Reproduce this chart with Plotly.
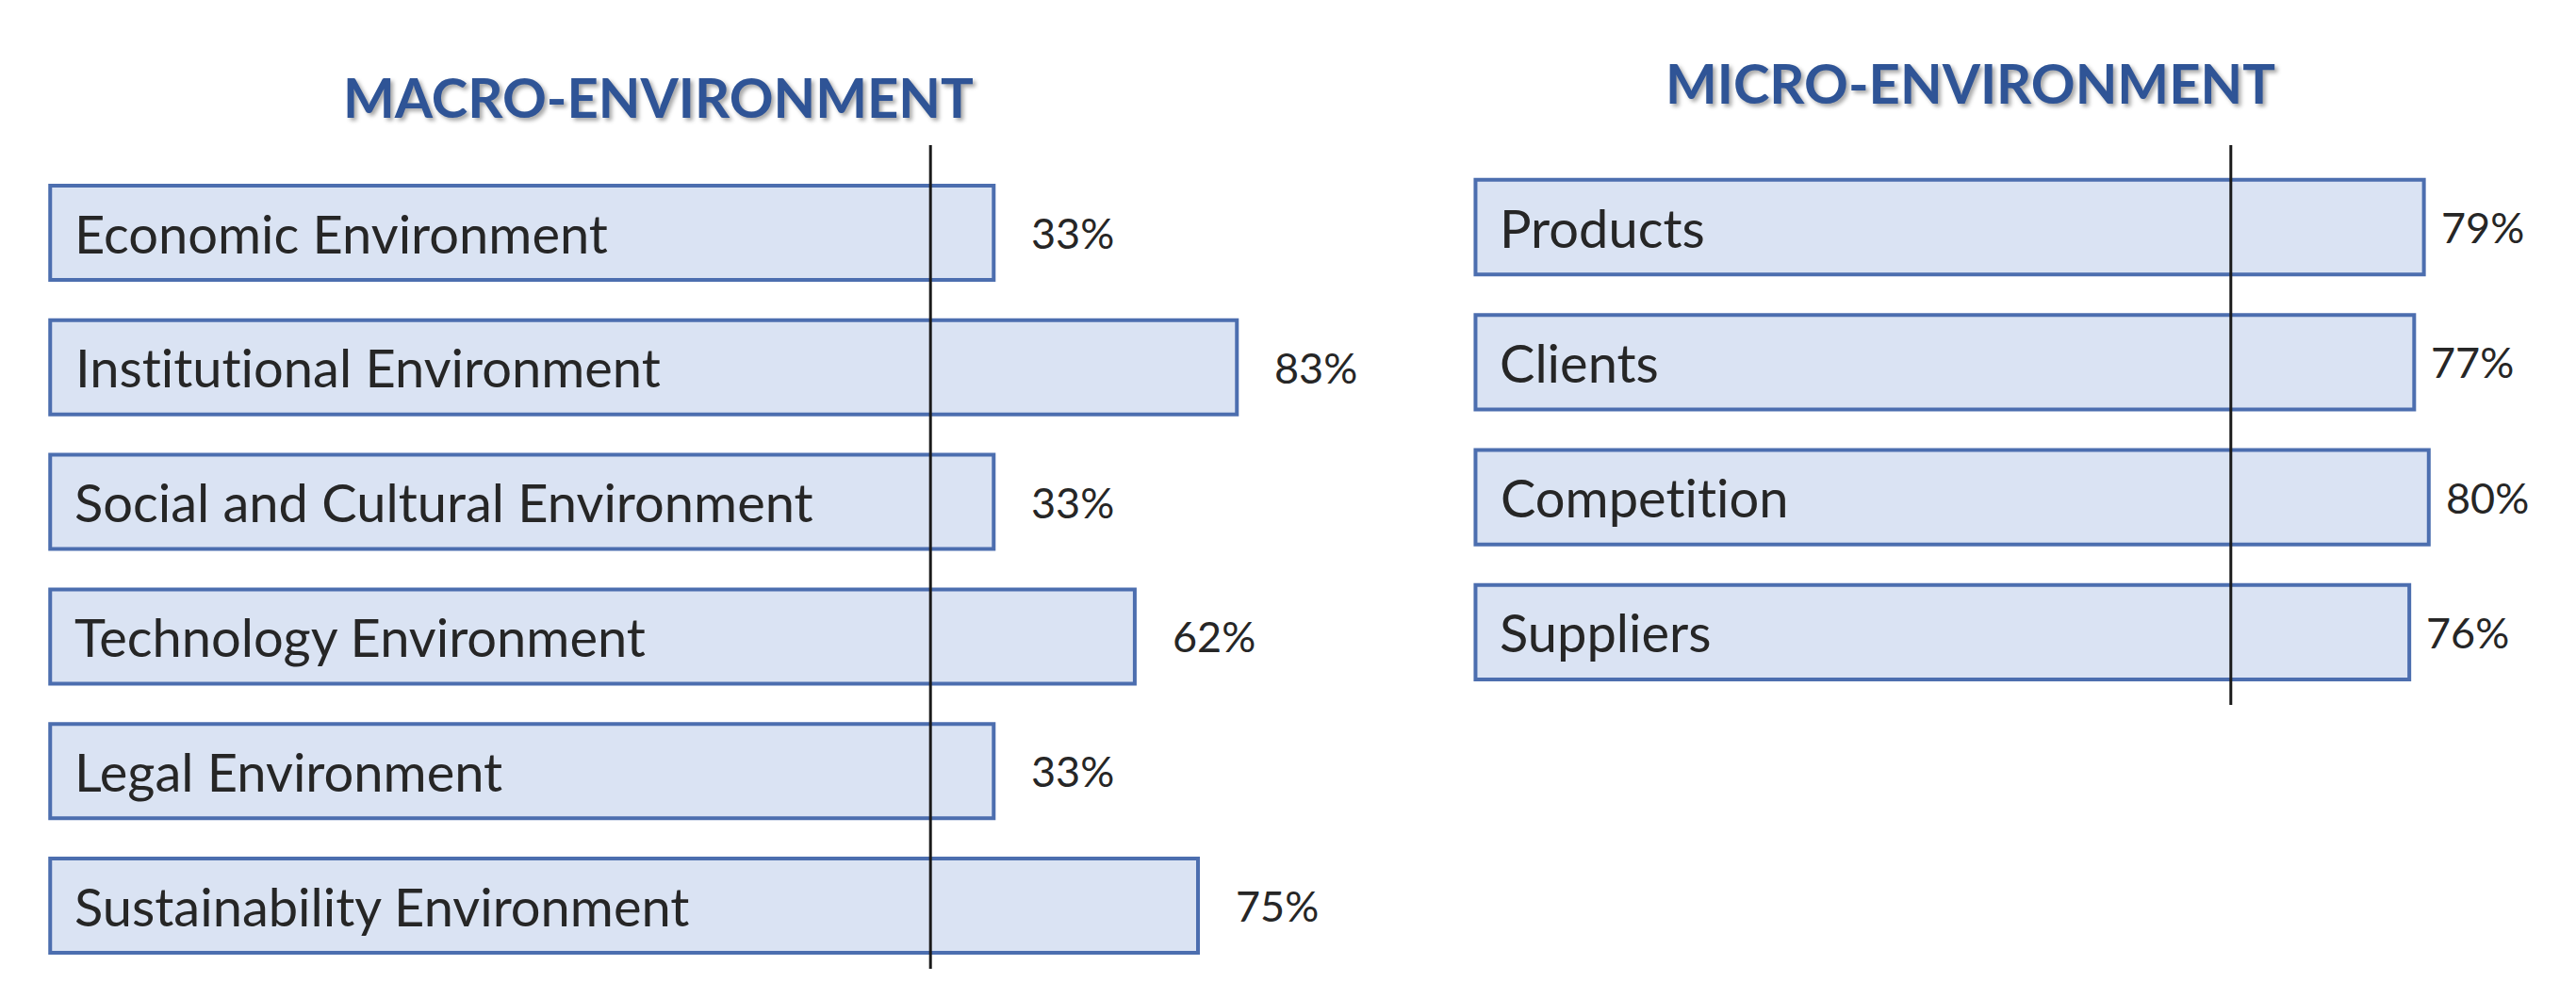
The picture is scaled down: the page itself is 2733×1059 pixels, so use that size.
import plotly.graph_objects as go

# Macro-environment factors
macro_labels = [
    "Economic Environment",
    "Institutional Environment",
    "Social and Cultural Environment",
    "Technology Environment",
    "Legal Environment",
    "Sustainability Environment",
]
macro_values = [33, 83, 33, 62, 33, 75]

# Micro-environment factors
micro_labels = ["Products", "Clients", "Competition", "Suppliers"]
micro_values = [79, 77, 80, 76]

W, H = 2717, 1043
OFF = 8  # body margin of the page

FILL = "#DAE3F3"
EDGE = "#4C6EAF"
TEXT = "#262626"
TITLE = "#2F5496"
FONT = "Lato"

# bars start well left of zero, as in the infographic
macro_base = -161
micro_base = -116
macro_mark = 20
micro_mark = 39.3

PX_PER_PCT = 5.16


def xrange(p0, p1, zero_px):
    return [(p0 + OFF - zero_px) / PX_PER_PCT, (p1 + OFF - zero_px) / PX_PER_PCT]


fig = go.Figure()

fig.add_trace(go.Bar(
    y=macro_labels, x=[v - macro_base for v in macro_values], base=macro_base,
    orientation="h", width=0.70,
    marker=dict(color=FILL, line=dict(color=EDGE, width=4)),
    xaxis="x", yaxis="y", hoverinfo="skip",
))
fig.add_trace(go.Bar(
    y=micro_labels, x=[v - micro_base for v in micro_values], base=micro_base,
    orientation="h", width=0.70,
    marker=dict(color=FILL, line=dict(color=EDGE, width=4)),
    xaxis="x2", yaxis="y2", hoverinfo="skip",
))

annotations = []
for lab, val in zip(macro_labels, macro_values):
    annotations.append(dict(x=macro_base, y=lab, xref="x", yref="y", text=lab,
                            xanchor="left", xshift=24, showarrow=False,
                            font=dict(family=FONT, size=56, color=TEXT)))
    annotations.append(dict(x=val, y=lab, xref="x", yref="y", text=f"{val}%",
                            xanchor="left", xshift=38, showarrow=False,
                            font=dict(family=FONT, size=45, color=TEXT)))
for lab, val in zip(micro_labels, micro_values):
    annotations.append(dict(x=micro_base, y=lab, xref="x2", yref="y2", text=lab,
                            xanchor="left", xshift=24, showarrow=False,
                            font=dict(family=FONT, size=56, color=TEXT)))
    annotations.append(dict(x=val, y=lab, xref="x2", yref="y2", text=f"{val}%",
                            xanchor="left", xshift=16, showarrow=False,
                            font=dict(family=FONT, size=45, color=TEXT)))

title_font = dict(family=FONT, size=58, color=TITLE, weight="bold",
                  shadow="3px 3px 4px rgba(0,0,0,0.35)")
annotations.append(dict(x=(699 - OFF) / W, y=1 - (102 - OFF) / H, xref="paper", yref="paper",
                        xanchor="center", yanchor="middle",
                        text="MACRO-ENVIRONMENT", showarrow=False, font=title_font))
annotations.append(dict(x=(2090 - OFF) / W, y=1 - (87 - OFF) / H, xref="paper", yref="paper",
                        xanchor="center", yanchor="middle",
                        text="MICRO-ENVIRONMENT", showarrow=False, font=title_font))

shapes = [
    dict(type="line", xref="x", yref="paper", x0=macro_mark, x1=macro_mark,
         y0=1 - (1028 - OFF) / H, y1=1 - (154 - OFF) / H,
         line=dict(color="#1a1a1a", width=3)),
    dict(type="line", xref="x2", yref="paper", x0=micro_mark, x1=micro_mark,
         y0=1 - (748 - OFF) / H, y1=1 - (154 - OFF) / H,
         line=dict(color="#1a1a1a", width=3)),
]

hidden = dict(showgrid=False, zeroline=False, showticklabels=False, showline=False, ticks="")

fig.update_layout(
    width=W, height=H,
    margin=dict(l=0, r=0, t=0, b=0),
    paper_bgcolor="white", plot_bgcolor="rgba(0,0,0,0)",
    showlegend=False, bargap=0.3,
    xaxis=dict(domain=[0, 1400 / W], range=xrange(0, 1400, 884), **hidden),
    xaxis2=dict(domain=[1420 / W, 1], range=xrange(1420, W, 2164), **hidden),
    yaxis=dict(domain=[0, 1], range=[(H + OFF - 247) / 142.8, (OFF - 247) / 142.8],
               categoryorder="array", categoryarray=macro_labels, **hidden),
    yaxis2=dict(domain=[0, 1], anchor="x2",
                range=[(H + OFF - 241) / 143.3, (OFF - 241) / 143.3],
                categoryorder="array", categoryarray=micro_labels, **hidden),
    annotations=annotations,
    shapes=shapes,
)

# Lato joins "ti" by default; the original lettering has no ligatures
no_ligatures = (
    "var s=document.createElement('style');"
    "s.textContent='text{font-variant-ligatures:none;font-feature-settings:\"liga\" 0;}';"
    "document.head.appendChild(s);"
)

fig.write_html("out.html", post_script=no_ligatures)
